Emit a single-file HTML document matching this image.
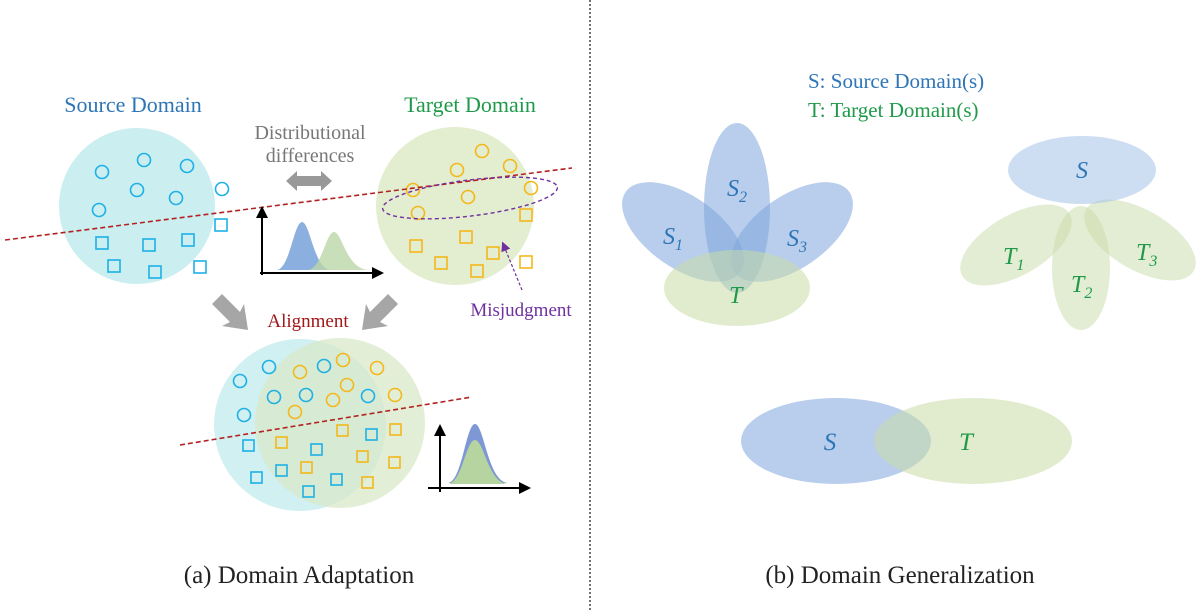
<!DOCTYPE html>
<html><head><meta charset="utf-8"><style>html,body{margin:0;padding:0;background:#fff}svg{display:block}</style></head>
<body>
<svg width="1200" height="612" viewBox="0 0 1200 612" xmlns="http://www.w3.org/2000/svg" font-family="Liberation Serif, serif">
<defs>
<marker id="pa" markerWidth="8" markerHeight="8" refX="4" refY="4" orient="auto"><path d="M0,0L8,4L0,8z" fill="#7030a0"/></marker>
<marker id="ka" markerWidth="6" markerHeight="6" refX="3" refY="3" orient="auto"><path d="M0,0L6,3L0,6z" fill="#000"/></marker>
</defs>
<line x1="590" y1="0" x2="590" y2="612" stroke="#444" stroke-width="1.5" stroke-dasharray="2,2"/>

<text x="133" y="112" font-size="22" fill="#2e75b6" text-anchor="middle">Source Domain</text>
<text x="470" y="112" font-size="22" fill="#1f9a4a" text-anchor="middle">Target Domain</text>
<circle cx="137" cy="206" r="78" fill="#cbeef0"/>
<circle cx="455" cy="206" r="79" fill="#e3edcf"/>
<text x="310" y="139" font-size="20" fill="#777" text-anchor="middle">Distributional</text>
<text x="310" y="162" font-size="20" fill="#777" text-anchor="middle">differences</text>
<path d="M286,181 L297,171 L297,176 L321,176 L321,171 L332,181 L321,191 L321,186 L297,186 L297,191 Z" fill="#999"/>

<g fill="none" stroke="#1eb0e6" stroke-width="1.6">
<circle cx="102" cy="172" r="6.5"/><circle cx="144" cy="160" r="6.5"/><circle cx="187" cy="166" r="6.5"/>
<circle cx="137" cy="190" r="6.5"/><circle cx="176" cy="198" r="6.5"/><circle cx="222" cy="189" r="6.5"/><circle cx="99" cy="210" r="6.5"/>
<rect x="96" y="237" width="12" height="12"/><rect x="143" y="239" width="12" height="12"/><rect x="182" y="234" width="12" height="12"/><rect x="215" y="219" width="12" height="12"/>
<rect x="108" y="260" width="12" height="12"/><rect x="149" y="266" width="12" height="12"/><rect x="194" y="261" width="12" height="12"/>
</g>
<g fill="none" stroke="#f4b81c" stroke-width="1.6">
<circle cx="482" cy="151" r="6.5"/><circle cx="457" cy="170" r="6.5"/><circle cx="510" cy="166" r="6.5"/>
<circle cx="413" cy="190" r="6.5"/><circle cx="468" cy="197" r="6.5"/><circle cx="531" cy="188" r="6.5"/><circle cx="418" cy="213" r="6.5"/>
<rect x="520" y="209" width="12" height="12"/><rect x="460" y="231" width="12" height="12"/><rect x="410" y="240" width="12" height="12"/>
<rect x="487" y="247" width="12" height="12"/><rect x="435" y="257" width="12" height="12"/><rect x="520" y="256" width="12" height="12"/><rect x="471" y="265" width="12" height="12"/>
</g>
<line x1="5" y1="240" x2="572" y2="168" stroke="#b22222" stroke-width="1.6" stroke-dasharray="5,3"/>
<ellipse cx="470" cy="198" rx="88" ry="18" transform="rotate(-7 470 198)" fill="none" stroke="#7030a0" stroke-width="1.4" stroke-dasharray="4,3"/>
<line x1="522" y1="290" x2="504" y2="246" stroke="#7030a0" stroke-width="1.2" stroke-dasharray="3,2" marker-end="url(#pa)"/>
<text x="521" y="316" font-size="19" fill="#7030a0" text-anchor="middle">Misjudgment</text>

<path d="M277,270 C290,268 294,222 302,222 C310,222 314,268 330,270 Z" fill="#7ea6dc" opacity="0.9"/>
<path d="M308,270 C322,268 326,232 334,232 C342,232 346,268 368,270 Z" fill="#bcd7a8" opacity="0.8"/>
<line x1="262" y1="275" x2="262" y2="212" stroke="#000" stroke-width="2" marker-end="url(#ka)"/>
<line x1="260" y1="273" x2="378" y2="273" stroke="#000" stroke-width="2" marker-end="url(#ka)"/>

<path d="M212,304 L222,294 L240,312 L244,304 L248,330 L222,326 L230,322 Z" fill="#a6a6a6"/>
<path d="M398,304 L388,294 L370,312 L366,304 L362,330 L388,326 L380,322 Z" fill="#a6a6a6"/>
<text x="308" y="327" font-size="19" fill="#a01818" text-anchor="middle">Alignment</text>

<circle cx="300" cy="425" r="86" fill="#cbeef0" opacity="0.9"/>
<circle cx="340" cy="423" r="85" fill="#d9e8c8" opacity="0.75"/>
<g fill="none" stroke="#1eb0e6" stroke-width="1.6">
<circle cx="240" cy="381" r="6.5"/><circle cx="269" cy="367" r="6.5"/><circle cx="324" cy="366" r="6.5"/>
<circle cx="274" cy="397" r="6.5"/><circle cx="306" cy="395" r="6.5"/><circle cx="368" cy="396" r="6.5"/><circle cx="244" cy="415" r="6.5"/>
<rect x="243" y="440" width="11" height="11"/><rect x="311" y="444" width="11" height="11"/><rect x="366" y="429" width="11" height="11"/>
<rect x="251" y="472" width="11" height="11"/><rect x="276" y="465" width="11" height="11"/><rect x="331" y="474" width="11" height="11"/><rect x="303" y="486" width="11" height="11"/>
</g>
<g fill="none" stroke="#f4b81c" stroke-width="1.6">
<circle cx="300" cy="372" r="6.5"/><circle cx="343" cy="360" r="6.5"/><circle cx="377" cy="368" r="6.5"/>
<circle cx="347" cy="385" r="6.5"/><circle cx="333" cy="400" r="6.5"/><circle cx="295" cy="412" r="6.5"/><circle cx="395" cy="395" r="6.5"/>
<rect x="276" y="437" width="11" height="11"/><rect x="337" y="425" width="11" height="11"/><rect x="390" y="424" width="11" height="11"/>
<rect x="357" y="451" width="11" height="11"/><rect x="301" y="462" width="11" height="11"/><rect x="389" y="457" width="11" height="11"/><rect x="362" y="477" width="11" height="11"/>
</g>
<line x1="180" y1="445" x2="472" y2="397" stroke="#b22222" stroke-width="1.6" stroke-dasharray="5,3"/>
<path d="M448,483 C462,482 466,424 475,424 C484,424 488,482 508,483 Z" fill="#7e98d6"/>
<path d="M448,484 C462,483 466,440 475,440 C484,440 488,483 508,484 Z" fill="#b6d4a0"/>
<line x1="440" y1="492" x2="440" y2="430" stroke="#000" stroke-width="2" marker-end="url(#ka)"/>
<line x1="428" y1="488" x2="525" y2="488" stroke="#000" stroke-width="2" marker-end="url(#ka)"/>

<text x="299" y="583" font-size="25" fill="#222" text-anchor="middle">(a) Domain Adaptation</text>

<text x="808" y="88" font-size="21" fill="#2e75b6">S: Source Domain(s)</text>
<text x="808" y="117" font-size="21" fill="#1f9a4a">T: Target Domain(s)</text>

<ellipse cx="683" cy="232" rx="70" ry="36" transform="rotate(35 683 232)" fill="#7ea6dc" opacity="0.55"/>
<ellipse cx="737" cy="208" rx="33" ry="85" fill="#7ea6dc" opacity="0.55"/>
<ellipse cx="792" cy="232" rx="70" ry="36" transform="rotate(-35 792 232)" fill="#7ea6dc" opacity="0.55"/>
<ellipse cx="737" cy="288" rx="73" ry="38" fill="#c8dca8" opacity="0.55"/>
<g font-style="italic">
<text x="663" y="244" font-size="24" fill="#2e75b6">S<tspan font-size="16" dy="6">1</tspan></text>
<text x="727" y="196" font-size="24" fill="#2e75b6">S<tspan font-size="16" dy="6">2</tspan></text>
<text x="787" y="246" font-size="24" fill="#2e75b6">S<tspan font-size="16" dy="6">3</tspan></text>
<text x="729" y="303" font-size="24" fill="#1f9a4a">T</text>
</g>

<ellipse cx="1016" cy="245" rx="62" ry="30" transform="rotate(-30 1016 245)" fill="#c8dca8" opacity="0.5"/>
<ellipse cx="1081" cy="268" rx="29" ry="62" fill="#c8dca8" opacity="0.5"/>
<ellipse cx="1140" cy="240" rx="62" ry="30" transform="rotate(30 1140 240)" fill="#c8dca8" opacity="0.5"/>
<ellipse cx="1082" cy="170" rx="74" ry="34" fill="#a5c3e8" opacity="0.55"/>
<g font-style="italic">
<text x="1082" y="178" font-size="24" fill="#2e75b6" text-anchor="middle">S</text>
<text x="1003" y="264" font-size="24" fill="#1f9a4a">T<tspan font-size="16" dy="6">1</tspan></text>
<text x="1071" y="292" font-size="24" fill="#1f9a4a">T<tspan font-size="16" dy="6">2</tspan></text>
<text x="1136" y="260" font-size="24" fill="#1f9a4a">T<tspan font-size="16" dy="6">3</tspan></text>
</g>

<ellipse cx="836" cy="441" rx="95" ry="43" fill="#7ea6dc" opacity="0.55"/>
<ellipse cx="973" cy="441" rx="99" ry="43" fill="#c8dca8" opacity="0.55"/>
<g font-style="italic">
<text x="830" y="450" font-size="25" fill="#2e75b6" text-anchor="middle">S</text>
<text x="966" y="450" font-size="25" fill="#1f9a4a" text-anchor="middle">T</text>
</g>

<text x="900" y="583" font-size="25" fill="#222" text-anchor="middle">(b) Domain Generalization</text>
</svg>
</body></html>
